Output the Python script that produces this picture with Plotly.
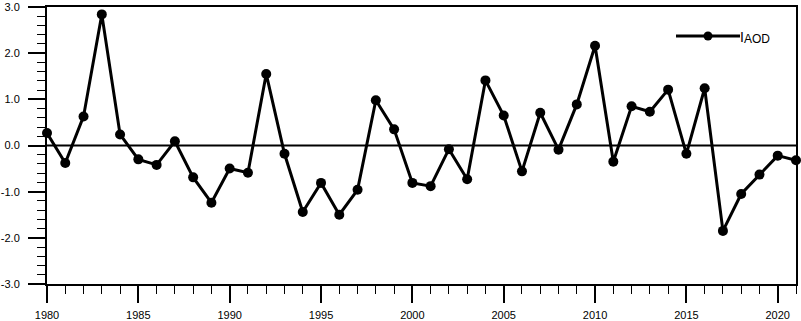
import plotly.graph_objects as go

years = list(range(1980, 2022))
i_aod = [0.27, -0.38, 0.63, 2.84, 0.24, -0.30, -0.42, 0.09, -0.69, -1.24,
         -0.50, -0.59, 1.55, -0.18, -1.44, -0.81, -1.50, -0.96, 0.98, 0.35,
         -0.81, -0.88, -0.08, -0.73, 1.41, 0.65, -0.56, 0.71, -0.09, 0.89,
         2.16, -0.35, 0.85, 0.73, 1.21, -0.18, 1.24, -1.85, -1.05, -0.63,
         -0.22, -0.32]

y_tickvals = [-3, -2, -1, 0, 1, 2, 3]
y_ticktext = ["-3.0", "-2.0", "-1.0", "0.0", "1.0", "2.0", "3.0"]
x_tickvals = [1980, 1985, 1990, 1995, 2000, 2005, 2010, 2015, 2020]
x_ticktext = [str(v) for v in x_tickvals]

fig = go.Figure()
fig.add_trace(go.Scatter(
    x=years, y=i_aod, mode="lines+markers",
    line=dict(color="black", width=3),
    marker=dict(color="black", size=10),
    cliponaxis=False, showlegend=False,
))

font = dict(family="Liberation Sans, Arial, Helvetica, sans-serif", size=11, color="black")

fig.update_layout(
    width=801, height=321,
    margin=dict(l=47, r=5, t=7, b=37, autoexpand=False),
    paper_bgcolor="white", plot_bgcolor="white",
    font=font,
    showlegend=False,
)
fig.update_xaxes(
    range=[1980, 2021], tickmode="array", tickvals=x_tickvals, ticktext=x_ticktext,
    ticks="outside", ticklen=17, tickwidth=1.5, tickcolor="black",
    minor=dict(dtick=1, tick0=1980, ticks="outside", ticklen=8, tickwidth=1, tickcolor="black", showgrid=False),
    showline=True, linecolor="black", linewidth=2, mirror=True,
    showgrid=False, zeroline=False, tickfont=font, ticklabelstandoff=3,
    automargin=False,
)
fig.update_yaxes(
    range=[-3, 3], tickmode="array", tickvals=y_tickvals, ticktext=y_ticktext,
    ticks="outside", ticklen=17, tickwidth=1.5, tickcolor="black",
    minor=dict(dtick=0.2, tick0=0, ticks="outside", ticklen=8, tickwidth=1, tickcolor="black", showgrid=False),
    showline=True, linecolor="black", linewidth=2, mirror=True,
    showgrid=False, zeroline=False, tickfont=font, ticklabelstandoff=6,
    automargin=False,
)
# zero reference line
fig.add_shape(type="line", xref="paper", yref="y", x0=0, x1=1, y0=0, y1=0,
              line=dict(color="black", width=2), layer="below")

# manual legend
pw = 749.0
ph = 277.0
def px(x):
    return (x - 47) / pw
def py(y):
    return (284 - y) / ph

fig.add_shape(type="line", xref="paper", yref="paper",
              x0=px(676), x1=px(740), y0=py(36), y1=py(36),
              line=dict(color="black", width=3))
fig.add_shape(type="circle", xref="paper", yref="paper",
              x0=px(703.5), x1=px(712.5), y0=py(31.5), y1=py(40.5),
              fillcolor="black", line=dict(color="black", width=0))
fig.add_annotation(xref="paper", yref="paper", x=px(738), y=py(37),
                   xanchor="left", yanchor="middle", showarrow=False,
                   text="I", font=dict(family="Liberation Sans, Arial, sans-serif", size=14, color="black"))
fig.add_annotation(xref="paper", yref="paper", x=px(742), y=py(39),
                   xanchor="left", yanchor="middle", showarrow=False,
                   text="AOD", font=dict(family="Liberation Sans, Arial, sans-serif", size=12, color="black"))

fig.write_html("out.html", config={"displayModeBar": False},
               post_script="document.body.style.margin='0px';document.body.style.padding='0px';document.body.style.overflow='hidden';")
